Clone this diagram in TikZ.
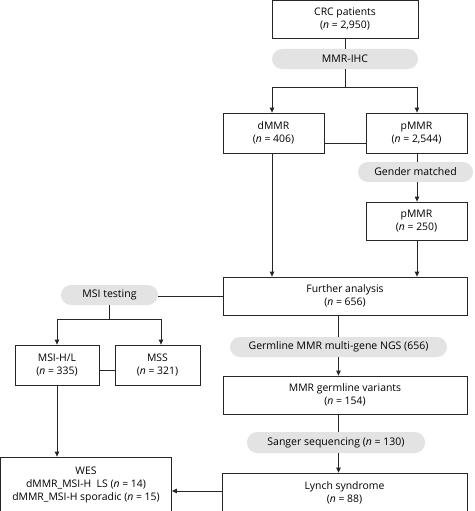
\documentclass[tikz,border=0pt]{standalone}
\usepackage{fontspec}
\setmainfont{Open Sans}
\usetikzlibrary{arrows.meta,positioning,calc}
\tikzset{
  box/.style={draw=black!85, line width=0.8pt, fill=white, align=center, inner sep=0pt,
    font=\fontsize{10.4}{13}\selectfont},
  pill/.style={fill=black!11, draw=none, rounded corners=10pt, align=center, inner sep=0pt,
    font=\fontsize{10.5}{12}\selectfont},
  conn/.style={draw=black!85, line width=0.8pt},
  arr/.style={conn, -{Triangle[length=5pt,width=4.5pt]}}
}
\begin{document}
\begin{tikzpicture}[x=1pt,y=-1pt]
\useasboundingbox (0,0) rectangle (474,511);
% boxes
\node[box, minimum width=146pt, minimum height=38pt] (crc) at (345,19) {CRC patients\\(\textit{n} = 2,950)};
\node[pill, minimum width=146pt, minimum height=20pt] (ihc) at (345,59) {MMR-IHC};
\node[box, minimum width=101pt, minimum height=40pt] (dmmr) at (273.5,133) {dMMR\\(\textit{n} = 406)};
\node[box, minimum width=101pt, minimum height=40pt] (pmmr) at (416.5,133) {pMMR\\(\textit{n} = 2,544)};
\node[pill, minimum width=115pt, minimum height=20pt] (gender) at (415.5,172) {Gender matched};
\node[box, minimum width=101pt, minimum height=38pt] (pmmrb) at (416.5,221) {pMMR\\(\textit{n} = 250)};
\node[box, minimum width=244pt, minimum height=38pt] (further) at (345,296) {Further analysis\\(\textit{n} = 656)};
\node[pill, minimum width=97pt, minimum height=20pt] (msit) at (109.5,295) {MSI testing};
\node[box, minimum width=84pt, minimum height=40pt] (msihl) at (57,365) {MSI-H/L\\(\textit{n} = 335)};
\node[box, minimum width=85pt, minimum height=40pt] (mss) at (157.5,365) {MSS\\(\textit{n} = 321)};
\node[pill, minimum width=217pt, minimum height=20pt] (ngs) at (338.5,347) {Germline MMR multi-gene NGS (656)};
\node[box, minimum width=244pt, minimum height=38pt] (var) at (345,395) {MMR germline variants\\(\textit{n} = 154)};
\node[pill, minimum width=178pt, minimum height=21pt] (sanger) at (336,442.5) {Sanger sequencing (\textit{n} = 130)};
\node[box, minimum width=245pt, minimum height=39pt] (lynch) at (344.5,492.5) {Lynch syndrome\\(\textit{n} = 88)};
\node[box, minimum width=171pt, minimum height=56pt] (wes) at (86,485) {WES\\dMMR\_MSI-H\ \ LS (\textit{n} = 14)\\dMMR\_MSI-H sporadic (\textit{n} = 15)};
% connectors
\draw[conn] (crc.south) -- (ihc.north);
\coordinate (split1) at (345,87);
\draw[conn] (ihc.south) -- (split1);
\draw[arr] (split1) -| (dmmr.north -| 272,0);
\draw[arr] (split1) -| (pmmr.north -| 417,0);
\draw[conn] (dmmr.east |- 0,143) -- (pmmr.west |- 0,143);
\draw[conn] (pmmr.south -| 417,0) -- (gender.north -| 417,0);
\draw[arr] (gender.south -| 417,0) -- (pmmrb.north -| 417,0);
\draw[arr] (dmmr.south -| 272,0) -- (further.north -| 272,0);
\draw[arr] (pmmrb.south -| 417,0) -- (further.north -| 417,0);
\draw[conn] (further.west |- 0,296) -- (msit.east |- 0,296);
\coordinate (split2) at (109.5,319);
\draw[conn] (msit.south) -- (split2);
\draw[arr] (split2) -| (msihl.north -| 57,0);
\draw[arr] (split2) -| (mss.north -| 161,0);
\draw[conn] (msihl.east |- 0,370) -- (mss.west |- 0,370);
\draw[arr] (msihl.south) -- (wes.north -| msihl.south);
\draw[conn] (further.south -| ngs.north) -- (ngs.north);
\draw[arr] (ngs.south) -- (var.north -| ngs.south);
\draw[conn] (var.south -| ngs.south) -- (sanger.north -| ngs.south);
\draw[arr] (sanger.south -| ngs.south) -- (lynch.north -| ngs.south);
\draw[arr] (lynch.west |- 0,491) -- (wes.east |- 0,491);
\end{tikzpicture}
\end{document}
